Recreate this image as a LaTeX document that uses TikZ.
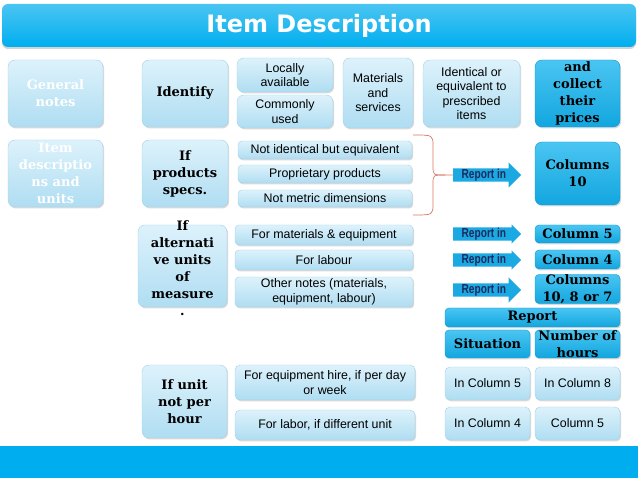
\documentclass[tikz,border=0pt]{standalone}
\usepackage{fontspec}
\setmainfont{Liberation Sans}
\newfontfamily\headfont{DejaVu Serif}
\newfontfamily\titlefont{DejaVu Sans}
\newfontfamily\narrowfont[FakeStretch=0.78]{Liberation Sans}
\usetikzlibrary{shapes.arrows,shadows}
\definecolor{barblue}{HTML}{00AEEF}
\definecolor{paletop}{HTML}{DDF2FB}
\definecolor{palebot}{HTML}{AFDDF2}
\definecolor{paleedge}{HTML}{A0D3E9}
\definecolor{deeptop}{HTML}{4AC5F2}
\definecolor{deepbot}{HTML}{12A6DF}
\definecolor{deepedge}{HTML}{0E98CE}
\definecolor{arrowblue}{HTML}{1AA9E2}
\definecolor{navytext}{HTML}{1C2A5E}
\definecolor{bracered}{HTML}{D8735E}

\begin{document}
\begin{tikzpicture}[x=1pt,y=1pt]
					\tikzstyle{every node}+=[inner sep=0pt]
					\tikzstyle{sans}=[font=\fontsize{12.4}{14.5}\selectfont]
					\tikzstyle{serif}=[font=\headfont\bfseries\fontsize{13}{17}\selectfont]
					\tikzstyle{lbox}=[rounded corners=7pt, top color=paletop, bottom color=palebot, draw=paleedge, line width=0.4pt, drop shadow={shadow xshift=1.2pt, shadow yshift=-1.5pt, opacity=0.3}, align=center]
					\tikzstyle{dbox}=[rounded corners=7pt, top color=deeptop, bottom color=deepbot, draw=deepedge, line width=0.4pt, drop shadow={shadow xshift=1.2pt, shadow yshift=-1.5pt, opacity=0.3}, align=center, serif]
					\tikzstyle{reparrow}=[single arrow, fill=arrowblue, anchor=tail, minimum height=68pt, inner xsep=2pt, inner ysep=0.3pt, single arrow head extend=3pt, text=navytext, font=\narrowfont\bfseries\fontsize{13}{13}\selectfont]
					\useasboundingbox (0,0) rectangle (638,-478);
					\node [rounded corners=6pt, top color=deeptop, bottom color=barblue, drop shadow={shadow xshift=0pt, shadow yshift=-2pt, opacity=0.35}, minimum width=634, minimum height=43, text=white, font=\titlefont\bfseries\fontsize{24}{28}\selectfont] (bar) at (319,-25.5) {Item Description};
					\node [fill=barblue, minimum width=638, minimum height=32, anchor=south west] (foot) at (0,-478) {};
					\node [lbox, minimum width=95, minimum height=67, serif, text=white] (gen) at (55.5,-93.5) {General\\notes};
					\node [lbox, minimum width=86, minimum height=67, serif] (ident) at (185,-93.5) {Identify};
					\node [lbox, minimum width=96, minimum height=34, sans] (local) at (285,-75) {Locally\\available};
					\node [lbox, minimum width=96, minimum height=33, sans] (common) at (285,-111.5) {Commonly\\used};
					\node [lbox, minimum width=70, minimum height=70, sans] (mat) at (378,-93) {Materials\\and\\services};
					\node [lbox, minimum width=97, minimum height=67, sans] (equiv) at (471.5,-93.5) {Identical or\\equivalent to\\prescribed\\items};
					\node [dbox, minimum width=85, minimum height=67] (collect) at (577.5,-93.5) {};
					\node [serif, align=center] (collecttxt) at (collect) {and\\collect\\their\\prices};
					\node [lbox, minimum width=95, minimum height=67] (item) at (55.5,-173.5) {};
					\node [serif, align=center, text=white] (itemtxt) at (item) {Item\\descriptio\\ns and\\units};
					\node [lbox, minimum width=86, minimum height=67, serif] (prod) at (185,-173.5) {If\\products\\specs.};
					\node [lbox, rounded corners=4pt, minimum width=174, minimum height=18, sans] (notid) at (325,-150) {Not identical but equivalent};
					\node [lbox, rounded corners=4pt, minimum width=174, minimum height=18, sans] (prop) at (325,-174) {Proprietary products};
					\node [lbox, rounded corners=4pt, minimum width=174, minimum height=17, sans] (metric) at (325,-198.5) {Not metric dimensions};
					\node [reparrow, single arrow head extend=6pt] (rep1) at (453,-175) {Report in};
					\node [dbox, minimum width=85, minimum height=63] (col10) at (577.5,-173.5) {Columns\\10};
					\coordinate (bt) at (413,-135);
					\coordinate (bb) at (413,-215);
					\coordinate (bm) at (445,-175);
					\draw [bracered, line width=0.7pt] (bt) .. controls (433,-135) .. (433,-146) -- (433,-166) .. controls (433,-175) .. (bm) -- (rep1.tail);
					\draw [bracered, line width=0.7pt] (bb) .. controls (433,-215) .. (433,-204) -- (433,-184) .. controls (433,-175) .. (bm);
					\node [lbox, minimum width=89, minimum height=82] (alt) at (182.5,-266) {};
					\node [serif, align=center] (alttxt) at (182.5,-268) {If\\alternati\\ve units\\of\\measure\\.};
					\node [lbox, rounded corners=4pt, minimum width=178, minimum height=20, sans] (mateq) at (324,-235) {For materials \& equipment};
					\node [lbox, rounded corners=4pt, minimum width=178, minimum height=20, sans] (labour) at (324,-260) {For labour};
					\node [lbox, rounded corners=4pt, minimum width=178, minimum height=30, sans] (other) at (324,-292) {Other notes (materials,\\equipment, labour)};
					\node [reparrow] (rep2) at (453,-234) {Report in};
					\node [reparrow] (rep3) at (453,-260) {Report in};
					\node [reparrow, single arrow head extend=6pt] (rep4) at (453,-290) {Report in};
					\node [dbox, rounded corners=4pt, minimum width=85, minimum height=18] (c5) at (577.5,-234) {Column 5};
					\node [dbox, rounded corners=4pt, minimum width=85, minimum height=19] (c4) at (577.5,-259.5) {Column 4};
					\node [dbox, rounded corners=4pt, minimum width=85, minimum height=28] (c1087) at (577.5,-289) {Columns\\10, 8 or 7};
					\node [dbox, rounded corners=4pt, minimum width=175, minimum height=19] (report) at (532.5,-317.5) {Report};
					\node [dbox, rounded corners=4pt, minimum width=85, minimum height=28] (sit) at (487.5,-344) {Situation};
					\node [dbox, rounded corners=4pt, minimum width=85, minimum height=28] (hours) at (577.5,-344) {Number of\\hours};
					\node [lbox, minimum width=85, minimum height=73, serif] (unit) at (184.5,-401.5) {If unit\\not per\\hour};
					\node [lbox, rounded corners=5pt, minimum width=180, minimum height=35, sans] (hire) at (325,-382.5) {For equipment hire, if per day\\or week};
					\node [lbox, rounded corners=5pt, minimum width=180, minimum height=30, sans] (labor) at (325,-425) {For labor, if different unit};
					\node [lbox, rounded corners=5pt, minimum width=85, minimum height=33, sans] (in5) at (487.5,-383.5) {In Column 5};
					\node [lbox, rounded corners=5pt, minimum width=85, minimum height=33, sans] (in8) at (577.5,-383.5) {In Column 8};
					\node [lbox, rounded corners=5pt, minimum width=85, minimum height=33, sans] (in4) at (487.5,-423.5) {In Column 4};
					\node [lbox, rounded corners=5pt, minimum width=85, minimum height=33, sans] (col5) at (577.5,-423.5) {Column 5};
				\end{tikzpicture}
\end{document}
